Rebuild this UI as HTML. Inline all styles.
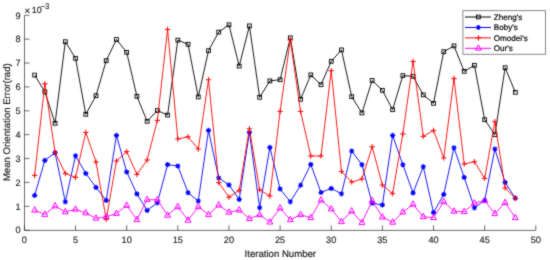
<!DOCTYPE html>
<html><head><meta charset="utf-8"><style>html,body{margin:0;padding:0;background:#fff;width:550px;height:260px;overflow:hidden}svg{display:block}text{text-rendering:geometricPrecision}</style></head>
<body><svg width="550" height="260" viewBox="0 0 550 260"><defs><filter id="f" x="0" y="0" width="550" height="260" filterUnits="userSpaceOnUse" color-interpolation-filters="sRGB"><feConvolveMatrix order="3" kernelMatrix="1 2 1 2 16 2 1 2 1" divisor="28" edgeMode="duplicate"/></filter></defs><g filter="url(#f)"><rect width="550" height="260" fill="#fff"/><path d="M24.5 15.3V230.4H535.8" stroke="#262626" stroke-width="1" fill="none" opacity="0.68"/>
<path d="M24.40 230.4V225.2 M75.54 230.4V225.2 M126.68 230.4V225.2 M177.82 230.4V225.2 M228.96 230.4V225.2 M280.10 230.4V225.2 M331.24 230.4V225.2 M382.38 230.4V225.2 M433.52 230.4V225.2 M484.66 230.4V225.2 M535.80 230.4V225.2 M24.5 230.20H29.5 M24.5 206.32H29.5 M24.5 182.44H29.5 M24.5 158.56H29.5 M24.5 134.68H29.5 M24.5 110.80H29.5 M24.5 86.92H29.5 M24.5 63.04H29.5 M24.5 39.16H29.5 M24.5 15.28H29.5" stroke="#262626" stroke-width="1" fill="none" opacity="0.68"/>
<g font-family="Liberation Sans, Arial, sans-serif" font-size="9.2" fill="#262626" stroke="#262626" stroke-width="0.15"><text x="24.40" y="243.0" text-anchor="middle">0</text><text x="75.54" y="243.0" text-anchor="middle">5</text><text x="126.68" y="243.0" text-anchor="middle">10</text><text x="177.82" y="243.0" text-anchor="middle">15</text><text x="228.96" y="243.0" text-anchor="middle">20</text><text x="280.10" y="243.0" text-anchor="middle">25</text><text x="331.24" y="243.0" text-anchor="middle">30</text><text x="382.38" y="243.0" text-anchor="middle">35</text><text x="433.52" y="243.0" text-anchor="middle">40</text><text x="484.66" y="243.0" text-anchor="middle">45</text><text x="535.80" y="243.0" text-anchor="middle">50</text><text x="20.5" y="233.45" text-anchor="end">0</text><text x="20.5" y="209.57" text-anchor="end">1</text><text x="20.5" y="185.69" text-anchor="end">2</text><text x="20.5" y="161.81" text-anchor="end">3</text><text x="20.5" y="137.93" text-anchor="end">4</text><text x="20.5" y="114.05" text-anchor="end">5</text><text x="20.5" y="90.17" text-anchor="end">6</text><text x="20.5" y="66.29" text-anchor="end">7</text><text x="20.5" y="42.41" text-anchor="end">8</text><text x="20.5" y="18.53" text-anchor="end">9</text></g>
<g font-family="Liberation Sans, Arial, sans-serif" fill="#262626" stroke="#262626" stroke-width="0.2"><text x="24.5" y="14.0" font-size="9.8">×</text><text x="31.8" y="12.9" font-size="8.8">10</text><text x="40.8" y="8.9" font-size="7.2">−</text><text x="45.2" y="8.9" font-size="8.4" transform="translate(45.2 8.9) scale(0.85 1) translate(-45.2 -8.9)">3</text></g>
<text x="280.3" y="256.5" text-anchor="middle" font-family="Liberation Sans, Arial, sans-serif" font-size="9.6" fill="#262626" stroke="#262626" stroke-width="0.2">Iteration Number</text>
<text transform="translate(9.9 122.2) rotate(-90)" text-anchor="middle" font-family="Liberation Sans, Arial, sans-serif" font-size="9.6" fill="#262626" stroke="#262626" stroke-width="0.2">Mean Orientation Error(rad)</text>
<polyline points="34.63,75.10 44.86,91.90 55.08,123.30 65.31,41.70 75.54,58.30 85.77,114.30 96.00,95.70 106.22,60.70 116.45,39.50 126.68,52.30 136.91,96.30 147.14,121.30 157.36,110.50 167.59,115.10 177.82,40.10 188.05,44.30 198.28,96.90 208.50,50.70 218.73,32.10 228.96,24.80 239.19,66.10 249.42,25.90 259.64,97.30 269.87,80.90 280.10,79.70 290.33,37.80 300.56,99.30 310.78,74.90 321.01,84.70 331.24,61.30 341.47,49.90 351.70,96.70 361.92,112.90 372.15,80.50 382.38,90.30 392.61,109.70 402.84,75.60 413.06,76.30 423.29,94.90 433.52,103.30 443.75,51.70 453.98,45.90 464.20,71.30 474.43,65.30 484.66,119.70 494.89,134.70 505.12,67.70 515.34,92.30" fill="none" stroke="#000" stroke-width="0.9" stroke-linejoin="miter"/>
<rect x="32.73" y="73.20" width="3.80" height="3.80" fill="none" stroke="#000" stroke-width="0.9"/><rect x="42.96" y="90.00" width="3.80" height="3.80" fill="none" stroke="#000" stroke-width="0.9"/><rect x="53.18" y="121.40" width="3.80" height="3.80" fill="none" stroke="#000" stroke-width="0.9"/><rect x="63.41" y="39.80" width="3.80" height="3.80" fill="none" stroke="#000" stroke-width="0.9"/><rect x="73.64" y="56.40" width="3.80" height="3.80" fill="none" stroke="#000" stroke-width="0.9"/><rect x="83.87" y="112.40" width="3.80" height="3.80" fill="none" stroke="#000" stroke-width="0.9"/><rect x="94.10" y="93.80" width="3.80" height="3.80" fill="none" stroke="#000" stroke-width="0.9"/><rect x="104.32" y="58.80" width="3.80" height="3.80" fill="none" stroke="#000" stroke-width="0.9"/><rect x="114.55" y="37.60" width="3.80" height="3.80" fill="none" stroke="#000" stroke-width="0.9"/><rect x="124.78" y="50.40" width="3.80" height="3.80" fill="none" stroke="#000" stroke-width="0.9"/><rect x="135.01" y="94.40" width="3.80" height="3.80" fill="none" stroke="#000" stroke-width="0.9"/><rect x="145.24" y="119.40" width="3.80" height="3.80" fill="none" stroke="#000" stroke-width="0.9"/><rect x="155.46" y="108.60" width="3.80" height="3.80" fill="none" stroke="#000" stroke-width="0.9"/><rect x="165.69" y="113.20" width="3.80" height="3.80" fill="none" stroke="#000" stroke-width="0.9"/><rect x="175.92" y="38.20" width="3.80" height="3.80" fill="none" stroke="#000" stroke-width="0.9"/><rect x="186.15" y="42.40" width="3.80" height="3.80" fill="none" stroke="#000" stroke-width="0.9"/><rect x="196.38" y="95.00" width="3.80" height="3.80" fill="none" stroke="#000" stroke-width="0.9"/><rect x="206.60" y="48.80" width="3.80" height="3.80" fill="none" stroke="#000" stroke-width="0.9"/><rect x="216.83" y="30.20" width="3.80" height="3.80" fill="none" stroke="#000" stroke-width="0.9"/><rect x="227.06" y="22.90" width="3.80" height="3.80" fill="none" stroke="#000" stroke-width="0.9"/><rect x="237.29" y="64.20" width="3.80" height="3.80" fill="none" stroke="#000" stroke-width="0.9"/><rect x="247.52" y="24.00" width="3.80" height="3.80" fill="none" stroke="#000" stroke-width="0.9"/><rect x="257.74" y="95.40" width="3.80" height="3.80" fill="none" stroke="#000" stroke-width="0.9"/><rect x="267.97" y="79.00" width="3.80" height="3.80" fill="none" stroke="#000" stroke-width="0.9"/><rect x="278.20" y="77.80" width="3.80" height="3.80" fill="none" stroke="#000" stroke-width="0.9"/><rect x="288.43" y="35.90" width="3.80" height="3.80" fill="none" stroke="#000" stroke-width="0.9"/><rect x="298.66" y="97.40" width="3.80" height="3.80" fill="none" stroke="#000" stroke-width="0.9"/><rect x="308.88" y="73.00" width="3.80" height="3.80" fill="none" stroke="#000" stroke-width="0.9"/><rect x="319.11" y="82.80" width="3.80" height="3.80" fill="none" stroke="#000" stroke-width="0.9"/><rect x="329.34" y="59.40" width="3.80" height="3.80" fill="none" stroke="#000" stroke-width="0.9"/><rect x="339.57" y="48.00" width="3.80" height="3.80" fill="none" stroke="#000" stroke-width="0.9"/><rect x="349.80" y="94.80" width="3.80" height="3.80" fill="none" stroke="#000" stroke-width="0.9"/><rect x="360.02" y="111.00" width="3.80" height="3.80" fill="none" stroke="#000" stroke-width="0.9"/><rect x="370.25" y="78.60" width="3.80" height="3.80" fill="none" stroke="#000" stroke-width="0.9"/><rect x="380.48" y="88.40" width="3.80" height="3.80" fill="none" stroke="#000" stroke-width="0.9"/><rect x="390.71" y="107.80" width="3.80" height="3.80" fill="none" stroke="#000" stroke-width="0.9"/><rect x="400.94" y="73.70" width="3.80" height="3.80" fill="none" stroke="#000" stroke-width="0.9"/><rect x="411.16" y="74.40" width="3.80" height="3.80" fill="none" stroke="#000" stroke-width="0.9"/><rect x="421.39" y="93.00" width="3.80" height="3.80" fill="none" stroke="#000" stroke-width="0.9"/><rect x="431.62" y="101.40" width="3.80" height="3.80" fill="none" stroke="#000" stroke-width="0.9"/><rect x="441.85" y="49.80" width="3.80" height="3.80" fill="none" stroke="#000" stroke-width="0.9"/><rect x="452.08" y="44.00" width="3.80" height="3.80" fill="none" stroke="#000" stroke-width="0.9"/><rect x="462.30" y="69.40" width="3.80" height="3.80" fill="none" stroke="#000" stroke-width="0.9"/><rect x="472.53" y="63.40" width="3.80" height="3.80" fill="none" stroke="#000" stroke-width="0.9"/><rect x="482.76" y="117.80" width="3.80" height="3.80" fill="none" stroke="#000" stroke-width="0.9"/><rect x="492.99" y="132.80" width="3.80" height="3.80" fill="none" stroke="#000" stroke-width="0.9"/><rect x="503.22" y="65.80" width="3.80" height="3.80" fill="none" stroke="#000" stroke-width="0.9"/><rect x="513.44" y="90.40" width="3.80" height="3.80" fill="none" stroke="#000" stroke-width="0.9"/>
<polyline points="34.63,195.40 44.86,160.40 55.08,152.80 65.31,201.80 75.54,155.80 85.77,173.40 96.00,187.40 106.22,200.40 116.45,135.40 126.68,171.90 136.91,193.90 147.14,210.40 157.36,202.80 167.59,164.60 177.82,166.00 188.05,192.70 198.28,201.00 208.50,130.40 218.73,178.00 228.96,184.90 239.19,199.40 249.42,132.40 259.64,207.80 269.87,147.40 280.10,189.00 290.33,201.80 300.56,185.20 310.78,164.40 321.01,192.50 331.24,188.40 341.47,193.80 351.70,151.00 361.92,164.70 372.15,203.20 382.38,204.90 392.61,135.40 402.84,164.70 413.06,192.90 423.29,166.70 433.52,212.60 443.75,194.40 453.98,147.80 464.20,177.40 474.43,207.80 484.66,200.40 494.89,149.00 505.12,182.40 515.34,198.20" fill="none" stroke="#0000ff" stroke-width="0.9" stroke-linejoin="miter"/>
<path d="M32.03 195.40H37.23M34.63 192.80V198.00M32.78 193.55L36.48 197.25M32.78 197.25L36.48 193.55" stroke="#0000ff" stroke-width="1.1" fill="none"/><path d="M42.26 160.40H47.46M44.86 157.80V163.00M43.01 158.55L46.71 162.25M43.01 162.25L46.71 158.55" stroke="#0000ff" stroke-width="1.1" fill="none"/><path d="M52.48 152.80H57.68M55.08 150.20V155.40M53.23 150.95L56.93 154.65M53.23 154.65L56.93 150.95" stroke="#0000ff" stroke-width="1.1" fill="none"/><path d="M62.71 201.80H67.91M65.31 199.20V204.40M63.46 199.95L67.16 203.65M63.46 203.65L67.16 199.95" stroke="#0000ff" stroke-width="1.1" fill="none"/><path d="M72.94 155.80H78.14M75.54 153.20V158.40M73.69 153.95L77.39 157.65M73.69 157.65L77.39 153.95" stroke="#0000ff" stroke-width="1.1" fill="none"/><path d="M83.17 173.40H88.37M85.77 170.80V176.00M83.92 171.55L87.62 175.25M83.92 175.25L87.62 171.55" stroke="#0000ff" stroke-width="1.1" fill="none"/><path d="M93.40 187.40H98.60M96.00 184.80V190.00M94.15 185.55L97.85 189.25M94.15 189.25L97.85 185.55" stroke="#0000ff" stroke-width="1.1" fill="none"/><path d="M103.62 200.40H108.82M106.22 197.80V203.00M104.37 198.55L108.07 202.25M104.37 202.25L108.07 198.55" stroke="#0000ff" stroke-width="1.1" fill="none"/><path d="M113.85 135.40H119.05M116.45 132.80V138.00M114.60 133.55L118.30 137.25M114.60 137.25L118.30 133.55" stroke="#0000ff" stroke-width="1.1" fill="none"/><path d="M124.08 171.90H129.28M126.68 169.30V174.50M124.83 170.05L128.53 173.75M124.83 173.75L128.53 170.05" stroke="#0000ff" stroke-width="1.1" fill="none"/><path d="M134.31 193.90H139.51M136.91 191.30V196.50M135.06 192.05L138.76 195.75M135.06 195.75L138.76 192.05" stroke="#0000ff" stroke-width="1.1" fill="none"/><path d="M144.54 210.40H149.74M147.14 207.80V213.00M145.29 208.55L148.99 212.25M145.29 212.25L148.99 208.55" stroke="#0000ff" stroke-width="1.1" fill="none"/><path d="M154.76 202.80H159.96M157.36 200.20V205.40M155.51 200.95L159.21 204.65M155.51 204.65L159.21 200.95" stroke="#0000ff" stroke-width="1.1" fill="none"/><path d="M164.99 164.60H170.19M167.59 162.00V167.20M165.74 162.75L169.44 166.45M165.74 166.45L169.44 162.75" stroke="#0000ff" stroke-width="1.1" fill="none"/><path d="M175.22 166.00H180.42M177.82 163.40V168.60M175.97 164.15L179.67 167.85M175.97 167.85L179.67 164.15" stroke="#0000ff" stroke-width="1.1" fill="none"/><path d="M185.45 192.70H190.65M188.05 190.10V195.30M186.20 190.85L189.90 194.55M186.20 194.55L189.90 190.85" stroke="#0000ff" stroke-width="1.1" fill="none"/><path d="M195.68 201.00H200.88M198.28 198.40V203.60M196.43 199.15L200.13 202.85M196.43 202.85L200.13 199.15" stroke="#0000ff" stroke-width="1.1" fill="none"/><path d="M205.90 130.40H211.10M208.50 127.80V133.00M206.65 128.55L210.35 132.25M206.65 132.25L210.35 128.55" stroke="#0000ff" stroke-width="1.1" fill="none"/><path d="M216.13 178.00H221.33M218.73 175.40V180.60M216.88 176.15L220.58 179.85M216.88 179.85L220.58 176.15" stroke="#0000ff" stroke-width="1.1" fill="none"/><path d="M226.36 184.90H231.56M228.96 182.30V187.50M227.11 183.05L230.81 186.75M227.11 186.75L230.81 183.05" stroke="#0000ff" stroke-width="1.1" fill="none"/><path d="M236.59 199.40H241.79M239.19 196.80V202.00M237.34 197.55L241.04 201.25M237.34 201.25L241.04 197.55" stroke="#0000ff" stroke-width="1.1" fill="none"/><path d="M246.82 132.40H252.02M249.42 129.80V135.00M247.57 130.55L251.27 134.25M247.57 134.25L251.27 130.55" stroke="#0000ff" stroke-width="1.1" fill="none"/><path d="M257.04 207.80H262.24M259.64 205.20V210.40M257.79 205.95L261.49 209.65M257.79 209.65L261.49 205.95" stroke="#0000ff" stroke-width="1.1" fill="none"/><path d="M267.27 147.40H272.47M269.87 144.80V150.00M268.02 145.55L271.72 149.25M268.02 149.25L271.72 145.55" stroke="#0000ff" stroke-width="1.1" fill="none"/><path d="M277.50 189.00H282.70M280.10 186.40V191.60M278.25 187.15L281.95 190.85M278.25 190.85L281.95 187.15" stroke="#0000ff" stroke-width="1.1" fill="none"/><path d="M287.73 201.80H292.93M290.33 199.20V204.40M288.48 199.95L292.18 203.65M288.48 203.65L292.18 199.95" stroke="#0000ff" stroke-width="1.1" fill="none"/><path d="M297.96 185.20H303.16M300.56 182.60V187.80M298.71 183.35L302.41 187.05M298.71 187.05L302.41 183.35" stroke="#0000ff" stroke-width="1.1" fill="none"/><path d="M308.18 164.40H313.38M310.78 161.80V167.00M308.93 162.55L312.63 166.25M308.93 166.25L312.63 162.55" stroke="#0000ff" stroke-width="1.1" fill="none"/><path d="M318.41 192.50H323.61M321.01 189.90V195.10M319.16 190.65L322.86 194.35M319.16 194.35L322.86 190.65" stroke="#0000ff" stroke-width="1.1" fill="none"/><path d="M328.64 188.40H333.84M331.24 185.80V191.00M329.39 186.55L333.09 190.25M329.39 190.25L333.09 186.55" stroke="#0000ff" stroke-width="1.1" fill="none"/><path d="M338.87 193.80H344.07M341.47 191.20V196.40M339.62 191.95L343.32 195.65M339.62 195.65L343.32 191.95" stroke="#0000ff" stroke-width="1.1" fill="none"/><path d="M349.10 151.00H354.30M351.70 148.40V153.60M349.85 149.15L353.55 152.85M349.85 152.85L353.55 149.15" stroke="#0000ff" stroke-width="1.1" fill="none"/><path d="M359.32 164.70H364.52M361.92 162.10V167.30M360.07 162.85L363.77 166.55M360.07 166.55L363.77 162.85" stroke="#0000ff" stroke-width="1.1" fill="none"/><path d="M369.55 203.20H374.75M372.15 200.60V205.80M370.30 201.35L374.00 205.05M370.30 205.05L374.00 201.35" stroke="#0000ff" stroke-width="1.1" fill="none"/><path d="M379.78 204.90H384.98M382.38 202.30V207.50M380.53 203.05L384.23 206.75M380.53 206.75L384.23 203.05" stroke="#0000ff" stroke-width="1.1" fill="none"/><path d="M390.01 135.40H395.21M392.61 132.80V138.00M390.76 133.55L394.46 137.25M390.76 137.25L394.46 133.55" stroke="#0000ff" stroke-width="1.1" fill="none"/><path d="M400.24 164.70H405.44M402.84 162.10V167.30M400.99 162.85L404.69 166.55M400.99 166.55L404.69 162.85" stroke="#0000ff" stroke-width="1.1" fill="none"/><path d="M410.46 192.90H415.66M413.06 190.30V195.50M411.21 191.05L414.91 194.75M411.21 194.75L414.91 191.05" stroke="#0000ff" stroke-width="1.1" fill="none"/><path d="M420.69 166.70H425.89M423.29 164.10V169.30M421.44 164.85L425.14 168.55M421.44 168.55L425.14 164.85" stroke="#0000ff" stroke-width="1.1" fill="none"/><path d="M430.92 212.60H436.12M433.52 210.00V215.20M431.67 210.75L435.37 214.45M431.67 214.45L435.37 210.75" stroke="#0000ff" stroke-width="1.1" fill="none"/><path d="M441.15 194.40H446.35M443.75 191.80V197.00M441.90 192.55L445.60 196.25M441.90 196.25L445.60 192.55" stroke="#0000ff" stroke-width="1.1" fill="none"/><path d="M451.38 147.80H456.58M453.98 145.20V150.40M452.13 145.95L455.83 149.65M452.13 149.65L455.83 145.95" stroke="#0000ff" stroke-width="1.1" fill="none"/><path d="M461.60 177.40H466.80M464.20 174.80V180.00M462.35 175.55L466.05 179.25M462.35 179.25L466.05 175.55" stroke="#0000ff" stroke-width="1.1" fill="none"/><path d="M471.83 207.80H477.03M474.43 205.20V210.40M472.58 205.95L476.28 209.65M472.58 209.65L476.28 205.95" stroke="#0000ff" stroke-width="1.1" fill="none"/><path d="M482.06 200.40H487.26M484.66 197.80V203.00M482.81 198.55L486.51 202.25M482.81 202.25L486.51 198.55" stroke="#0000ff" stroke-width="1.1" fill="none"/><path d="M492.29 149.00H497.49M494.89 146.40V151.60M493.04 147.15L496.74 150.85M493.04 150.85L496.74 147.15" stroke="#0000ff" stroke-width="1.1" fill="none"/><path d="M502.52 182.40H507.72M505.12 179.80V185.00M503.27 180.55L506.97 184.25M503.27 184.25L506.97 180.55" stroke="#0000ff" stroke-width="1.1" fill="none"/><path d="M512.74 198.20H517.94M515.34 195.60V200.80M513.49 196.35L517.19 200.05M513.49 200.05L517.19 196.35" stroke="#0000ff" stroke-width="1.1" fill="none"/>
<polyline points="34.63,175.40 44.86,83.80 55.08,152.40 65.31,173.40 75.54,177.40 85.77,132.40 96.00,162.00 106.22,219.40 116.45,161.00 126.68,151.60 136.91,174.40 147.14,160.00 157.36,120.40 167.59,29.40 177.82,139.00 188.05,136.80 198.28,149.00 208.50,79.80 218.73,182.60 228.96,197.20 239.19,190.40 249.42,128.80 259.64,189.80 269.87,196.00 280.10,111.40 290.33,39.90 300.56,111.40 310.78,156.00 321.01,156.00 331.24,70.70 341.47,171.40 351.70,182.00 361.92,179.00 372.15,146.80 382.38,185.10 392.61,193.70 402.84,134.00 413.06,61.40 423.29,136.40 433.52,130.40 443.75,157.90 453.98,78.40 464.20,164.00 474.43,161.70 484.66,178.40 494.89,121.70 505.12,188.00 515.34,198.20" fill="none" stroke="#ff0000" stroke-width="0.9" stroke-linejoin="miter"/>
<path d="M31.93 175.40H37.33M34.63 172.70V178.10" stroke="#ff0000" stroke-width="1" fill="none"/><path d="M42.16 83.80H47.56M44.86 81.10V86.50" stroke="#ff0000" stroke-width="1" fill="none"/><path d="M52.38 152.40H57.78M55.08 149.70V155.10" stroke="#ff0000" stroke-width="1" fill="none"/><path d="M62.61 173.40H68.01M65.31 170.70V176.10" stroke="#ff0000" stroke-width="1" fill="none"/><path d="M72.84 177.40H78.24M75.54 174.70V180.10" stroke="#ff0000" stroke-width="1" fill="none"/><path d="M83.07 132.40H88.47M85.77 129.70V135.10" stroke="#ff0000" stroke-width="1" fill="none"/><path d="M93.30 162.00H98.70M96.00 159.30V164.70" stroke="#ff0000" stroke-width="1" fill="none"/><path d="M103.52 219.40H108.92M106.22 216.70V222.10" stroke="#ff0000" stroke-width="1" fill="none"/><path d="M113.75 161.00H119.15M116.45 158.30V163.70" stroke="#ff0000" stroke-width="1" fill="none"/><path d="M123.98 151.60H129.38M126.68 148.90V154.30" stroke="#ff0000" stroke-width="1" fill="none"/><path d="M134.21 174.40H139.61M136.91 171.70V177.10" stroke="#ff0000" stroke-width="1" fill="none"/><path d="M144.44 160.00H149.84M147.14 157.30V162.70" stroke="#ff0000" stroke-width="1" fill="none"/><path d="M154.66 120.40H160.06M157.36 117.70V123.10" stroke="#ff0000" stroke-width="1" fill="none"/><path d="M164.89 29.40H170.29M167.59 26.70V32.10" stroke="#ff0000" stroke-width="1" fill="none"/><path d="M175.12 139.00H180.52M177.82 136.30V141.70" stroke="#ff0000" stroke-width="1" fill="none"/><path d="M185.35 136.80H190.75M188.05 134.10V139.50" stroke="#ff0000" stroke-width="1" fill="none"/><path d="M195.58 149.00H200.98M198.28 146.30V151.70" stroke="#ff0000" stroke-width="1" fill="none"/><path d="M205.80 79.80H211.20M208.50 77.10V82.50" stroke="#ff0000" stroke-width="1" fill="none"/><path d="M216.03 182.60H221.43M218.73 179.90V185.30" stroke="#ff0000" stroke-width="1" fill="none"/><path d="M226.26 197.20H231.66M228.96 194.50V199.90" stroke="#ff0000" stroke-width="1" fill="none"/><path d="M236.49 190.40H241.89M239.19 187.70V193.10" stroke="#ff0000" stroke-width="1" fill="none"/><path d="M246.72 128.80H252.12M249.42 126.10V131.50" stroke="#ff0000" stroke-width="1" fill="none"/><path d="M256.94 189.80H262.34M259.64 187.10V192.50" stroke="#ff0000" stroke-width="1" fill="none"/><path d="M267.17 196.00H272.57M269.87 193.30V198.70" stroke="#ff0000" stroke-width="1" fill="none"/><path d="M277.40 111.40H282.80M280.10 108.70V114.10" stroke="#ff0000" stroke-width="1" fill="none"/><path d="M287.63 39.90H293.03M290.33 37.20V42.60" stroke="#ff0000" stroke-width="1" fill="none"/><path d="M297.86 111.40H303.26M300.56 108.70V114.10" stroke="#ff0000" stroke-width="1" fill="none"/><path d="M308.08 156.00H313.48M310.78 153.30V158.70" stroke="#ff0000" stroke-width="1" fill="none"/><path d="M318.31 156.00H323.71M321.01 153.30V158.70" stroke="#ff0000" stroke-width="1" fill="none"/><path d="M328.54 70.70H333.94M331.24 68.00V73.40" stroke="#ff0000" stroke-width="1" fill="none"/><path d="M338.77 171.40H344.17M341.47 168.70V174.10" stroke="#ff0000" stroke-width="1" fill="none"/><path d="M349.00 182.00H354.40M351.70 179.30V184.70" stroke="#ff0000" stroke-width="1" fill="none"/><path d="M359.22 179.00H364.62M361.92 176.30V181.70" stroke="#ff0000" stroke-width="1" fill="none"/><path d="M369.45 146.80H374.85M372.15 144.10V149.50" stroke="#ff0000" stroke-width="1" fill="none"/><path d="M379.68 185.10H385.08M382.38 182.40V187.80" stroke="#ff0000" stroke-width="1" fill="none"/><path d="M389.91 193.70H395.31M392.61 191.00V196.40" stroke="#ff0000" stroke-width="1" fill="none"/><path d="M400.14 134.00H405.54M402.84 131.30V136.70" stroke="#ff0000" stroke-width="1" fill="none"/><path d="M410.36 61.40H415.76M413.06 58.70V64.10" stroke="#ff0000" stroke-width="1" fill="none"/><path d="M420.59 136.40H425.99M423.29 133.70V139.10" stroke="#ff0000" stroke-width="1" fill="none"/><path d="M430.82 130.40H436.22M433.52 127.70V133.10" stroke="#ff0000" stroke-width="1" fill="none"/><path d="M441.05 157.90H446.45M443.75 155.20V160.60" stroke="#ff0000" stroke-width="1" fill="none"/><path d="M451.28 78.40H456.68M453.98 75.70V81.10" stroke="#ff0000" stroke-width="1" fill="none"/><path d="M461.50 164.00H466.90M464.20 161.30V166.70" stroke="#ff0000" stroke-width="1" fill="none"/><path d="M471.73 161.70H477.13M474.43 159.00V164.40" stroke="#ff0000" stroke-width="1" fill="none"/><path d="M481.96 178.40H487.36M484.66 175.70V181.10" stroke="#ff0000" stroke-width="1" fill="none"/><path d="M492.19 121.70H497.59M494.89 119.00V124.40" stroke="#ff0000" stroke-width="1" fill="none"/><path d="M502.42 188.00H507.82M505.12 185.30V190.70" stroke="#ff0000" stroke-width="1" fill="none"/><path d="M512.64 198.20H518.04M515.34 195.50V200.90" stroke="#ff0000" stroke-width="1" fill="none"/>
<polyline points="34.63,210.20 44.86,214.50 55.08,206.00 65.31,211.90 75.54,209.30 85.77,212.90 96.00,218.30 106.22,216.70 116.45,213.50 126.68,205.40 136.91,219.70 147.14,199.70 157.36,199.70 167.59,215.30 177.82,206.70 188.05,220.30 198.28,206.70 208.50,214.70 218.73,205.10 228.96,212.30 239.19,210.10 249.42,218.70 259.64,214.70 269.87,222.10 280.10,208.10 290.33,219.70 300.56,214.70 310.78,217.70 321.01,200.10 331.24,209.00 341.47,221.70 351.70,211.10 361.92,222.70 372.15,200.70 382.38,217.10 392.61,222.30 402.84,212.10 413.06,204.30 423.29,216.70 433.52,217.70 443.75,201.70 453.98,211.30 464.20,211.70 474.43,203.10 484.66,200.70 494.89,213.70 505.12,202.70 515.34,217.70" fill="none" stroke="#ff00ff" stroke-width="0.9" stroke-linejoin="miter"/>
<path d="M34.63 206.70L37.53 212.10L31.73 212.10Z" stroke="#ff00ff" stroke-width="1" fill="none"/><path d="M44.86 211.00L47.76 216.40L41.96 216.40Z" stroke="#ff00ff" stroke-width="1" fill="none"/><path d="M55.08 202.50L57.98 207.90L52.18 207.90Z" stroke="#ff00ff" stroke-width="1" fill="none"/><path d="M65.31 208.40L68.21 213.80L62.41 213.80Z" stroke="#ff00ff" stroke-width="1" fill="none"/><path d="M75.54 205.80L78.44 211.20L72.64 211.20Z" stroke="#ff00ff" stroke-width="1" fill="none"/><path d="M85.77 209.40L88.67 214.80L82.87 214.80Z" stroke="#ff00ff" stroke-width="1" fill="none"/><path d="M96.00 214.80L98.90 220.20L93.10 220.20Z" stroke="#ff00ff" stroke-width="1" fill="none"/><path d="M106.22 213.20L109.12 218.60L103.32 218.60Z" stroke="#ff00ff" stroke-width="1" fill="none"/><path d="M116.45 210.00L119.35 215.40L113.55 215.40Z" stroke="#ff00ff" stroke-width="1" fill="none"/><path d="M126.68 201.90L129.58 207.30L123.78 207.30Z" stroke="#ff00ff" stroke-width="1" fill="none"/><path d="M136.91 216.20L139.81 221.60L134.01 221.60Z" stroke="#ff00ff" stroke-width="1" fill="none"/><path d="M147.14 196.20L150.04 201.60L144.24 201.60Z" stroke="#ff00ff" stroke-width="1" fill="none"/><path d="M157.36 196.20L160.26 201.60L154.46 201.60Z" stroke="#ff00ff" stroke-width="1" fill="none"/><path d="M167.59 211.80L170.49 217.20L164.69 217.20Z" stroke="#ff00ff" stroke-width="1" fill="none"/><path d="M177.82 203.20L180.72 208.60L174.92 208.60Z" stroke="#ff00ff" stroke-width="1" fill="none"/><path d="M188.05 216.80L190.95 222.20L185.15 222.20Z" stroke="#ff00ff" stroke-width="1" fill="none"/><path d="M198.28 203.20L201.18 208.60L195.38 208.60Z" stroke="#ff00ff" stroke-width="1" fill="none"/><path d="M208.50 211.20L211.40 216.60L205.60 216.60Z" stroke="#ff00ff" stroke-width="1" fill="none"/><path d="M218.73 201.60L221.63 207.00L215.83 207.00Z" stroke="#ff00ff" stroke-width="1" fill="none"/><path d="M228.96 208.80L231.86 214.20L226.06 214.20Z" stroke="#ff00ff" stroke-width="1" fill="none"/><path d="M239.19 206.60L242.09 212.00L236.29 212.00Z" stroke="#ff00ff" stroke-width="1" fill="none"/><path d="M249.42 215.20L252.32 220.60L246.52 220.60Z" stroke="#ff00ff" stroke-width="1" fill="none"/><path d="M259.64 211.20L262.54 216.60L256.74 216.60Z" stroke="#ff00ff" stroke-width="1" fill="none"/><path d="M269.87 218.60L272.77 224.00L266.97 224.00Z" stroke="#ff00ff" stroke-width="1" fill="none"/><path d="M280.10 204.60L283.00 210.00L277.20 210.00Z" stroke="#ff00ff" stroke-width="1" fill="none"/><path d="M290.33 216.20L293.23 221.60L287.43 221.60Z" stroke="#ff00ff" stroke-width="1" fill="none"/><path d="M300.56 211.20L303.46 216.60L297.66 216.60Z" stroke="#ff00ff" stroke-width="1" fill="none"/><path d="M310.78 214.20L313.68 219.60L307.88 219.60Z" stroke="#ff00ff" stroke-width="1" fill="none"/><path d="M321.01 196.60L323.91 202.00L318.11 202.00Z" stroke="#ff00ff" stroke-width="1" fill="none"/><path d="M331.24 205.50L334.14 210.90L328.34 210.90Z" stroke="#ff00ff" stroke-width="1" fill="none"/><path d="M341.47 218.20L344.37 223.60L338.57 223.60Z" stroke="#ff00ff" stroke-width="1" fill="none"/><path d="M351.70 207.60L354.60 213.00L348.80 213.00Z" stroke="#ff00ff" stroke-width="1" fill="none"/><path d="M361.92 219.20L364.82 224.60L359.02 224.60Z" stroke="#ff00ff" stroke-width="1" fill="none"/><path d="M372.15 197.20L375.05 202.60L369.25 202.60Z" stroke="#ff00ff" stroke-width="1" fill="none"/><path d="M382.38 213.60L385.28 219.00L379.48 219.00Z" stroke="#ff00ff" stroke-width="1" fill="none"/><path d="M392.61 218.80L395.51 224.20L389.71 224.20Z" stroke="#ff00ff" stroke-width="1" fill="none"/><path d="M402.84 208.60L405.74 214.00L399.94 214.00Z" stroke="#ff00ff" stroke-width="1" fill="none"/><path d="M413.06 200.80L415.96 206.20L410.16 206.20Z" stroke="#ff00ff" stroke-width="1" fill="none"/><path d="M423.29 213.20L426.19 218.60L420.39 218.60Z" stroke="#ff00ff" stroke-width="1" fill="none"/><path d="M433.52 214.20L436.42 219.60L430.62 219.60Z" stroke="#ff00ff" stroke-width="1" fill="none"/><path d="M443.75 198.20L446.65 203.60L440.85 203.60Z" stroke="#ff00ff" stroke-width="1" fill="none"/><path d="M453.98 207.80L456.88 213.20L451.08 213.20Z" stroke="#ff00ff" stroke-width="1" fill="none"/><path d="M464.20 208.20L467.10 213.60L461.30 213.60Z" stroke="#ff00ff" stroke-width="1" fill="none"/><path d="M474.43 199.60L477.33 205.00L471.53 205.00Z" stroke="#ff00ff" stroke-width="1" fill="none"/><path d="M484.66 197.20L487.56 202.60L481.76 202.60Z" stroke="#ff00ff" stroke-width="1" fill="none"/><path d="M494.89 210.20L497.79 215.60L491.99 215.60Z" stroke="#ff00ff" stroke-width="1" fill="none"/><path d="M505.12 199.20L508.02 204.60L502.22 204.60Z" stroke="#ff00ff" stroke-width="1" fill="none"/><path d="M515.34 214.20L518.24 219.60L512.44 219.60Z" stroke="#ff00ff" stroke-width="1" fill="none"/>
<rect x="462.9" y="10.6" width="82.6" height="43.7" fill="#fff" stroke="#888" stroke-width="1"/>
<path d="M465 17.0H491" stroke="#000" stroke-width="1"/>
<rect x="476.50" y="15.10" width="3.80" height="3.80" fill="none" stroke="#000" stroke-width="0.9"/>
<text x="493.8" y="19.80" font-family="Liberation Sans, Arial, sans-serif" font-size="8.1" fill="#000" stroke="#000" stroke-width="0.2">Zheng's</text>
<path d="M465 27.5H491" stroke="#0000ff" stroke-width="1"/>
<path d="M475.80 27.50H481.00M478.40 24.90V30.10M476.55 25.65L480.25 29.35M476.55 29.35L480.25 25.65" stroke="#0000ff" stroke-width="1.1" fill="none"/>
<text x="493.8" y="30.30" font-family="Liberation Sans, Arial, sans-serif" font-size="8.1" fill="#000" stroke="#000" stroke-width="0.2">Boby's</text>
<path d="M465 37.9H491" stroke="#ff0000" stroke-width="1"/>
<path d="M475.70 37.90H481.10M478.40 35.20V40.60" stroke="#ff0000" stroke-width="1" fill="none"/>
<text x="493.8" y="40.70" font-family="Liberation Sans, Arial, sans-serif" font-size="8.1" fill="#000" stroke="#000" stroke-width="0.2">Omodei's</text>
<path d="M465 48.3H491" stroke="#ff00ff" stroke-width="1"/>
<path d="M478.40 44.80L481.30 50.20L475.50 50.20Z" stroke="#ff00ff" stroke-width="1" fill="none"/>
<text x="493.8" y="51.10" font-family="Liberation Sans, Arial, sans-serif" font-size="8.1" fill="#000" stroke="#000" stroke-width="0.2">Our's</text></g></svg></body></html>
